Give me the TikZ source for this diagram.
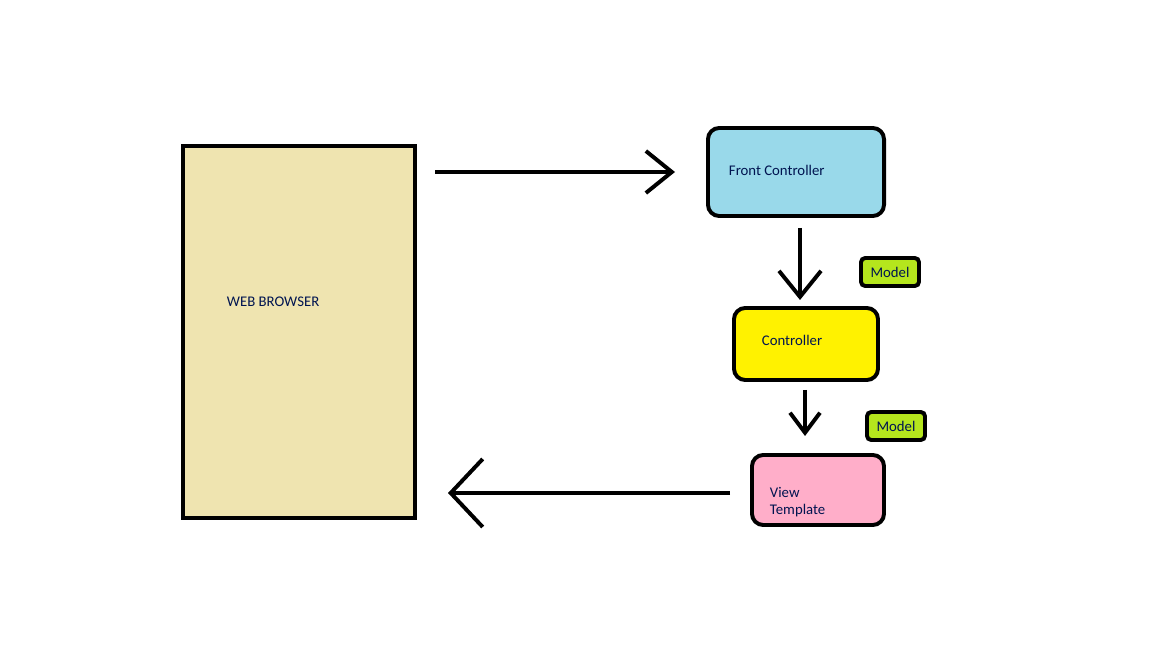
\documentclass[tikz,border=0pt]{standalone}
\usepackage{fontspec}
\setmainfont{Carlito}
\usetikzlibrary{arrows.meta,positioning}
\definecolor{browsertan}{RGB}{239,228,176}
\definecolor{frontblue}{RGB}{153,217,234}
\definecolor{ctrlyellow}{RGB}{255,242,0}
\definecolor{viewpink}{RGB}{255,174,201}
\definecolor{modelgreen}{RGB}{181,230,29}
\definecolor{labelblue}{RGB}{0,20,80}
\tikzset{
	box/.style={draw, line width=2.8pt, rounded corners=8pt, text=labelblue, font=\fontsize{10.5}{12}\selectfont},
	model/.style={box, rounded corners=3pt, fill=modelgreen, minimum width=1.45cm, minimum height=0.7cm, inner sep=0pt},
	flow/.style={line width=2.8pt, -{Straight Barb[length=0.65cm, width=1.05cm, line width=2.8pt]}}
}
\begin{document}
\begin{tikzpicture}[x=0.025cm, y=-0.025cm]
	\useasboundingbox (0,0) rectangle (1152,648);
	
	\node [box, rounded corners=0pt, fill=browsertan, minimum width=5.8cm, minimum height=9.3cm, anchor=north west] (browser) at (181,144) {};
	\node [text=labelblue, font=\fontsize{10.5}{12}\selectfont, anchor=west] (browserlabel) at (222,302) {WEB BROWSER};
	
	\node [box, fill=frontblue, minimum width=4.4cm, minimum height=2.2cm] (front) at (796,172) {};
	\node [text=labelblue, font=\fontsize{10.5}{12}\selectfont, anchor=west] (frontlabel) at (724,170) {Front Controller};
	
	\node [box, fill=ctrlyellow, minimum width=3.6cm, minimum height=1.8cm] (ctrl) at (806,344) {};
	\node [text=labelblue, font=\fontsize{10.5}{12}\selectfont, anchor=west] (ctrllabel) at (757,340) {Controller};
	
	\node [box, fill=viewpink, minimum width=3.3cm, minimum height=1.75cm] (view) at (818,490) {};
	\node [text=labelblue, font=\fontsize{10.5}{12}\selectfont, anchor=west, align=left] (viewlabel) at (765,502) {View\\Template};
	
	\node [model] (model1) at (890,272) {Model};		% Model oben
	\node [model] (model2) at (896,426) {Model};		% Model unten
	
	\coordinate (reqstart) at (435,172);
	\coordinate (frontin) at (675,172);
	\coordinate (frontout) at (800,228);
	\coordinate (ctrlin) at (800,300);
	\coordinate (ctrlout) at (805,390);
	\coordinate (viewin) at (805,436);
	\coordinate (viewout) at (730,493);
	\coordinate (browserin) at (448,493);
	
	\draw [flow] (reqstart) -- (frontin);
	\draw [flow] (frontout) -- (ctrlin);
	\draw [flow, -{Straight Barb[length=0.5cm, width=0.75cm, line width=2.8pt]}] (ctrlout) -- (viewin);
	\draw [flow, -{Straight Barb[length=0.8cm, width=1.7cm, line width=2.8pt]}] (viewout) -- (browserin);
\end{tikzpicture}
\end{document}
